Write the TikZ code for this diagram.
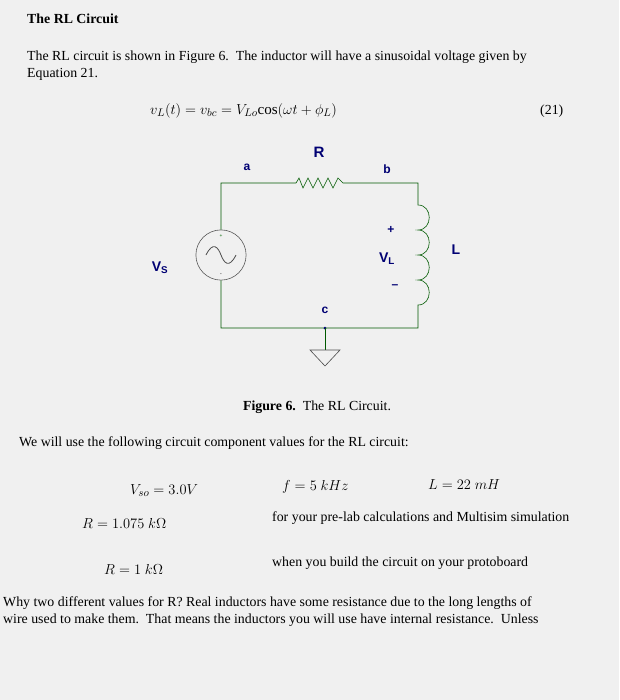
\documentclass[tikz,border=0pt]{standalone}
\usepackage{fontspec}
\setmainfont{Liberation Serif}
\newfontfamily\cs{Liberation Sans}
\usepackage{amsmath}
\begin{document}
\begin{tikzpicture}[x=0.35mm,y=-0.35mm,
  txt/.style={anchor=base west,inner sep=0,font=\fontsize{13.8}{16}\selectfont},
  mth/.style={anchor=base west,inner sep=0,font=\fontsize{15}{17}\selectfont},
  clab/.style={text=blue!45!black,font=\cs\bfseries\fontsize{12}{14}\selectfont,inner sep=0},
  wire/.style={draw=green!35!black,line width=0.6pt}]
\fill[gray!12] (0,0) rectangle (619,700);
\useasboundingbox (0,0) rectangle (619,700);
\node[txt,font=\bfseries\fontsize{13.8}{16}\selectfont] (t0) at (27,24) {The RL Circuit};
\node[txt] (t1) at (27,60) {The RL circuit is shown in Figure 6.\ \ The inductor will have a sinusoidal voltage given by};
\node[txt] (t2) at (27,77) {Equation 21.};
\node[mth] (eq) at (150,114) {$v_L(t)=v_{bc}=V_{Lo}\mathrm{cos}(\omega t+\phi_L)$};
\node[txt] (en) at (540,114) {(21)};
% circuit
\coordinate (tl) at (221,183); \coordinate (tr) at (418,183);
\coordinate (bl) at (221,328); \coordinate (br) at (418,328);
\coordinate (c) at (325,328);
\node[circle,draw=gray!70!black,line width=0.6pt,minimum size=50] (vs) at (221,255) {};
\draw[gray!60!black,line width=0.8pt] (206,255) .. controls (213,241) and (218,247) .. (221,255) .. controls (224,263) and (229,269) .. (236,255);
\node[font=\tiny\bfseries,text=green!40!black] (vp) at (221,236) {+};
\node[font=\tiny\bfseries] (vm) at (221,275) {-};
\draw[wire] (vs.north) -- (tl) -- (296,183) -- (299,178) -- (303,188) -- (308,178) -- (313,188) -- (318,178) -- (323,188) -- (328,178) -- (333,188) -- (338,178) -- (343,183) -- (tr) -- (418,205)
  .. controls (433,205) and (433,230) .. (418,230)
  .. controls (433,230) and (433,255) .. (418,255)
  .. controls (433,255) and (433,280) .. (418,280)
  .. controls (433,280) and (433,305) .. (418,305)
  -- (br) -- (bl) -- (vs.south);
\fill[blue!50!black] (c) circle (1.5);
\draw[wire] (c) -- (325,350);
\draw[draw=gray!60!black,line width=0.6pt] (310,350) -- (340,350) -- (325,366) -- cycle;
\node[clab] (la) at (247,167) {a};
\node[clab] (lb) at (387,169) {b};
\node[clab,font=\cs\bfseries\fontsize{15}{17}\selectfont] (lR) at (319,152) {R};
\node[clab] (lc) at (325,310) {c};
\node[clab,font=\cs\bfseries\fontsize{14}{16}\selectfont] (lL) at (456,250) {L};
\node[clab,font=\cs\bfseries\fontsize{14}{16}\selectfont] (lVs) at (160,268) {V$_{\text{S}}$};
\node[clab,font=\cs\bfseries\fontsize{14}{16}\selectfont] (lVL) at (387,259) {V$_{\text{L}}$};
\node[clab] (lp) at (391,230) {+};
\node[clab] (lm) at (395,287) {–};
\node[txt,anchor=base] (cap) at (317,410) {\textbf{Figure 6.}\ \ The RL Circuit.};
\node[txt] (t3) at (19,446) {We will use the following circuit component values for the RL circuit:};
\node[mth] (v1) at (130,494) {$V_{so}=3.0V$};
\node[mth] (v2) at (282,490) {$f=5\ kHz$};
\node[mth] (v3) at (428,489) {$L=22\ mH$};
\node[mth] (v4) at (82,528) {$R=1.075\ k\Omega$};
\node[txt] (v5) at (272,521) {for your pre-lab calculations and Multisim simulation};
\node[mth] (v6) at (104,574) {$R=1\ k\Omega$};
\node[txt] (v7) at (272,566) {when you build the circuit on your protoboard};
\node[txt] (t4) at (3,606) {Why two different values for R?\ Real inductors have some resistance due to the long lengths of};
\node[txt] (t5) at (3,623) {wire used to make them.\ \ That means the inductors you will use have internal resistance.\ \ Unless};
\end{tikzpicture}
\end{document}
